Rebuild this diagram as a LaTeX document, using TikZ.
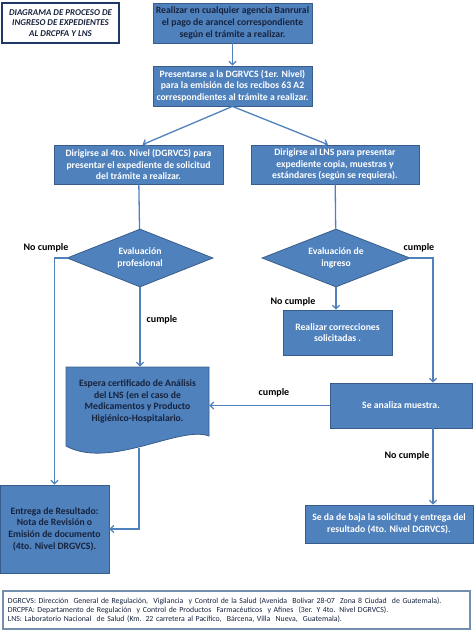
\documentclass[tikz,border=0pt]{standalone}
\usepackage{fontspec}
\setmainfont{Carlito}
\usetikzlibrary{shapes.geometric,arrows.meta,calc}
\definecolor{boxfill}{HTML}{4F81BD}
\definecolor{boxline}{HTML}{385D8A}
\definecolor{navy}{HTML}{17233D}
\definecolor{linec}{HTML}{4F81BD}
\definecolor{titleline}{HTML}{1F3864}
\begin{document}
\begin{tikzpicture}[x=1pt,y=-1pt,
  box/.style={draw=boxline, fill=boxfill, line width=0.8pt, text=white,
    font=\bfseries\fontsize{9.7}{11.6}\selectfont, align=center, inner sep=1pt},
  darktxt/.style={text=navy},
  decision/.style={diamond, draw=boxline, fill=boxfill, line width=0.8pt, text=white,
    font=\bfseries\fontsize{9.7}{12}\selectfont, align=center, inner sep=0pt, shape aspect=2.5},
  titlebox/.style={draw=titleline, fill=white, line width=1.3pt, text=navy,
    font=\bfseries\itshape\fontsize{8.9}{10.5}\selectfont, align=center},
  lbl/.style={font=\bfseries\fontsize{10}{11}\selectfont, text=black, inner sep=0pt},
  arr/.style={draw=linec, line width=1.3pt, -{Straight Barb[length=3.5pt,width=7pt]}},
  ln/.style={draw=linec, line width=1.3pt},
  docshape/.style={draw=boxline, fill=boxfill, line width=0.8pt},
  footbox/.style={draw=boxline!70, fill=white, line width=1.2pt, text=navy,
    font=\fontsize{7.8}{9}\selectfont, align=left, inner xsep=5pt}
]
\useasboundingbox (0,0) rectangle (474,630);

\node[titlebox, minimum width=117pt, minimum height=40pt] (title) at (60.5,23) {DIAGRAMA DE PROCESO DE\\INGRESO DE EXPEDIENTES\\AL DRCPFA Y LNS};

\node[box, darktxt, minimum width=159pt, minimum height=40pt] (b1) at (232.5,23) {Realizar en cualquier agencia Banrural\\el pago de arancel correspondiente\\según el trámite a realizar.};
\node[box, minimum width=159pt, minimum height=40pt] (b2) at (232.5,86) {Presentarse a la DGRVCS (1er. Nivel)\\para la emisión de los recibos 63 A2\\correspondientes al trámite a realizar.};

\node[box, minimum width=169pt, minimum height=39pt] (b3L) at (138.5,164.5) {Dirigirse al 4to. Nivel (DGRVCS) para\\presentar el expediente de solicitud\\del trámite a realizar.};
\node[box, minimum width=168pt, minimum height=39pt] (b3R) at (335,164.5) {Dirigirse al LNS para presentar\\expediente copia, muestras y\\estándares (según se requiera).};

\node[decision, minimum width=146pt, minimum height=58pt] (dL) at (140,258) {Evaluación\\profesional};
\node[decision, minimum width=148pt, minimum height=58pt] (dR) at (336,258) {Evaluación de\\ingreso};

\node[box, minimum width=109pt, minimum height=45pt] (corr) at (337.5,332.5) {Realizar correcciones\\solicitadas .};

\path[docshape] (66,367) -- (209,367) -- (209,436) .. controls (180,425) and (110,470) .. (66,446) -- cycle;
\node[box, darktxt, draw=none, fill=none, minimum width=143pt, minimum height=69pt] (espera) at (137.5,401.5) {Espera certificado de Análisis\\del LNS (en el caso de\\Medicamentos y Producto\\Higiénico-Hospitalario.};
\coordinate (espS) at (139,448);

\node[box, minimum width=142pt, minimum height=45pt] (analiza) at (401,405.5) {Se analiza muestra.};

\node[box, darktxt, minimum width=109pt, minimum height=88pt] (entrega) at (54.5,529) {Entrega de Resultado:\\Nota de Revisión o\\Emisión de documento\\(4to. Nivel DRGVCS).};

\node[box, minimum width=168pt, minimum height=38pt] (baja) at (389,524) {Se da de baja la solicitud y entrega del\\resultado (4to. Nivel DGRVCS).};

\node[footbox, minimum width=467pt, minimum height=38pt, text width=457pt] (foot) at (236.5,610) {DGRCVS: Dirección\ \ General de Regulación,\ \ Vigilancia\ \ y Control de la Salud (Avenida\ \ Bolívar 28-07\ \ Zona 8 Ciudad\ \ de Guatemala).\\
DRCPFA: Departamento de Regulación\ \ y Control de Productos\ \ Farmacéuticos\ \ y Afines\ \ (3er. Y 4to. Nivel DGRVCS).\\
LNS: Laboratorio Nacional\ \ de Salud (Km. 22 carretera al Pacífico,\ \ Bárcena, Villa\ \ Nueva,\ \ Guatemala).};

\coordinate (colR) at (433,258);

% connectors
\draw[arr] (b1) -- (b2);
\draw[arr] (b2.south) -- ([xshift=4pt]b3L.north);
\draw[arr] (b2.south) -- ([xshift=-7pt]b3R.north);
\draw[ln] (b3L) -- (dL);
\draw[ln] (b3R) -- (dR);
\draw[arr] (dL.west) -| (entrega.north);
\draw[arr] (dL.south) -- (dL.south |- espera.north);
\draw[arr] (dR.east) -- (colR) -- (colR |- analiza.north);
\draw[arr] (dR.south) -- (dR.south |- corr.north);
\draw[arr] (analiza.west) -- (analiza.west -| espera.east);
\draw[arr] (espS) |- (entrega.east);
\draw[arr] (colR |- analiza.south) -- (colR |- baja.north);

% labels
\node[lbl] (l1) at (46,248) {No cumple};
\node[lbl] (l2) at (419,248) {cumple};
\node[lbl] (l3) at (293,302) {No cumple};
\node[lbl] (l4) at (162,320) {cumple};
\node[lbl] (l5) at (274,393) {cumple};
\node[lbl] (l6) at (407,456) {No cumple};
\end{tikzpicture}
\end{document}
